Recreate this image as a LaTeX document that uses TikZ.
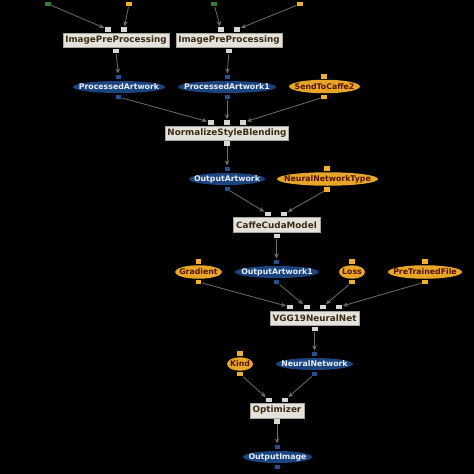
\documentclass[tikz,border=0pt]{standalone}
\usepackage{fontspec}
\setmainfont{DejaVu Sans}
\usetikzlibrary{shapes.geometric,arrows.meta}
\definecolor{boxfill}{HTML}{E4E2DC}
\definecolor{boxedge}{HTML}{A8A49A}
\definecolor{boxtext}{HTML}{3E2C12}
\definecolor{bluefill}{HTML}{1C4580}
\definecolor{bluetext}{HTML}{E6EEF8}
\definecolor{bluepor}{HTML}{24508E}
\definecolor{orafill}{HTML}{E8A628}
\definecolor{oratext}{HTML}{561400}
\definecolor{orapor}{HTML}{F0B02C}
\definecolor{greenpor}{HTML}{3A7A3A}
\definecolor{graypor}{HTML}{D6D6D2}
\definecolor{linkgray}{HTML}{6E6E6E}
\begin{document}
\begin{tikzpicture}[x=1pt,y=-1pt,
  proc/.style={rectangle, draw=boxedge, fill=boxfill, line width=0.6pt, inner sep=0pt,
    text=boxtext, font=\bfseries\fontsize{8.8}{10}\selectfont, minimum height=14pt},
  bluee/.style={ellipse, fill=bluefill, inner sep=0pt, minimum height=12pt},
  orae/.style={ellipse, fill=orafill, inner sep=0pt, minimum height=13.5pt},
  btxt/.style={text=bluetext, font=\bfseries\fontsize{7.8}{9}\selectfont, inner sep=0pt},
  otxt/.style={text=oratext, font=\bfseries\fontsize{7.8}{9}\selectfont, inner sep=0pt},
  pbox/.style={rectangle, fill=graypor, minimum width=6pt, minimum height=4.5pt, inner sep=0pt},
  pblue/.style={rectangle, fill=bluepor, minimum width=5pt, minimum height=4pt, inner sep=0pt},
  pora/.style={rectangle, fill=orapor, minimum width=5.5pt, minimum height=4.5pt, inner sep=0pt},
  pgreen/.style={rectangle, fill=greenpor, minimum width=5.5pt, minimum height=4.5pt, inner sep=0pt},
  link/.style={draw=linkgray, line width=0.8pt, -{Stealth[length=5pt,width=4.5pt]}, shorten >=0.8pt, shorten <=0.5pt}
]
\fill[black] (0,0) rectangle (474,474);
\useasboundingbox (0,0) rectangle (474,474);

% top partial inputs (only their ports visible)
\node[pgreen] (g1o) at (48,4) {};
\node[pora] (o1o) at (129,4) {};
\node[pgreen] (g2o) at (214,4) {};
\node[pora] (o2o) at (300,4) {};

% ImagePreProcessing 1
\node[proc, minimum width=106pt] (ipp1) at (116,40) {ImagePreProcessing};
\node[pbox] (ipp1a) at (108,29.5) {};
\node[pbox] (ipp1b) at (124,29.5) {};
\node[pbox] (ipp1o) at (116,51) {};
% ImagePreProcessing 2
\node[proc, minimum width=106pt] (ipp2) at (229,40) {ImagePreProcessing};
\node[pbox] (ipp2a) at (221,29.5) {};
\node[pbox] (ipp2b) at (237,29.5) {};
\node[pbox] (ipp2o) at (229,51) {};

% ProcessedArtwork
\node[bluee, minimum width=92pt, label={[btxt,name=pat]center:ProcessedArtwork}] (pa) at (119,87) {};
\node[pblue] (pai) at (118.5,76.5) {};
\node[pblue] (pao) at (118.5,97) {};
% ProcessedArtwork1
\node[bluee, minimum width=98pt, label={[btxt,name=pa1t]center:ProcessedArtwork1}] (pa1) at (227,87) {};
\node[pblue] (pa1i) at (227,76.5) {};
\node[pblue] (pa1o) at (227,97) {};
% SendToCaffe2
\node[orae, minimum width=71pt, label={[otxt,name=stct]center:SendToCaffe2}] (stc) at (324.5,86.5) {};
\node[pora] (stci) at (324,76.5) {};
\node[pora] (stco) at (324,97) {};

% NormalizeStyleBlending
\node[proc, minimum width=123pt] (nsb) at (227,133) {NormalizeStyleBlending};
\node[pbox] (nsba) at (211,122.5) {};
\node[pbox] (nsbb) at (227,122.5) {};
\node[pbox] (nsbc) at (243,122.5) {};
\node[pbox] (nsbo) at (227,143.5) {};

% OutputArtwork
\node[bluee, minimum width=76pt, label={[btxt,name=oat]center:OutputArtwork}] (oa) at (227,179) {};
\node[pblue] (oai) at (227,168.5) {};
\node[pblue] (oao) at (227,189) {};
% NeuralNetworkType
\node[orae, minimum width=101pt, label={[otxt,name=nntt]center:NeuralNetworkType}] (nnt) at (327.5,179) {};
\node[pora] (nnti) at (327,168.5) {};
\node[pora] (nnto) at (327,189.5) {};

% CaffeCudaModel
\node[proc, minimum width=87pt, minimum height=15pt] (ccm) at (276.5,225) {CaffeCudaModel};
\node[pbox] (ccma) at (268,214) {};
\node[pbox] (ccmb) at (284,214) {};
\node[pbox] (ccmo) at (276.5,236) {};

% row of inputs for VGG
\node[orae, minimum width=47pt, label={[otxt,name=gradt]center:Gradient}] (grad) at (198.5,272) {};
\node[pora] (gradi) at (198.5,261.5) {};
\node[pora] (grado) at (198.5,282) {};
\node[bluee, minimum width=84pt, label={[btxt,name=oa1t]center:OutputArtwork1}] (oa1) at (277,272) {};
\node[pblue] (oa1i) at (276.5,261.5) {};
\node[pblue] (oa1o) at (276.5,282) {};
\node[orae, minimum width=26pt, label={[otxt,name=losst]center:Loss}] (loss) at (352,272) {};
\node[pora] (lossi) at (352,261.5) {};
\node[pora] (losso) at (352,282) {};
\node[orae, minimum width=74pt, label={[otxt,name=ptft]center:PreTrainedFile}] (ptf) at (425,272) {};
\node[pora] (ptfi) at (425,261.5) {};
\node[pora] (ptfo) at (425,282) {};

% VGG19NeuralNet
\node[proc, minimum width=89pt] (vgg) at (314.5,318) {VGG19NeuralNet};
\node[pbox] (vgga) at (290,307) {};
\node[pbox] (vggb) at (306.5,307) {};
\node[pbox] (vggc) at (322.5,307) {};
\node[pbox] (vggd) at (339,307) {};
\node[pbox] (vggo) at (314.5,329) {};

% Kind, NeuralNetwork
\node[orae, minimum width=26pt, label={[otxt,name=kindt]center:Kind}] (kind) at (240,364) {};
\node[pora] (kindi) at (240,353.5) {};
\node[pora] (kindo) at (240,374) {};
\node[bluee, minimum width=77pt, label={[btxt,name=nnt2]center:NeuralNetwork}] (nn) at (314.5,364) {};
\node[pblue] (nni) at (314.5,353.5) {};
\node[pblue] (nno) at (314.5,374) {};

% Optimizer
\node[proc, minimum width=54pt, minimum height=15pt] (opt) at (277,410.5) {Optimizer};
\node[pbox] (opta) at (269,400) {};
\node[pbox] (optb) at (285,400) {};
\node[pbox] (opto) at (277,421.5) {};

% OutputImage
\node[bluee, minimum width=69pt, label={[btxt,name=oit]center:OutputImage}] (oi) at (277.5,457) {};
\node[pblue] (oii) at (277,446.5) {};
\node[pblue] (oio) at (277,467) {};

% connectors
\draw[link] (g1o) -- (ipp1a);
\draw[link] (o1o) -- (ipp1b);
\draw[link] (g2o) -- (ipp2a);
\draw[link] (o2o) -- (ipp2b);
\draw[link] (ipp1o) -- (pai);
\draw[link] (ipp2o) -- (pa1i);
\draw[link] (pao) -- (nsba);
\draw[link] (pa1o) -- (nsbb);
\draw[link] (stco) -- (nsbc);
\draw[link] (nsbo) -- (oai);
\draw[link] (oao) -- (ccma);
\draw[link] (nnto) -- (ccmb);
\draw[link] (ccmo) -- (oa1i);
\draw[link] (grado) -- (vgga);
\draw[link] (oa1o) -- (vggb);
\draw[link] (losso) -- (vggc);
\draw[link] (ptfo) -- (vggd);
\draw[link] (vggo) -- (nni);
\draw[link] (kindo) -- (opta);
\draw[link] (nno) -- (optb);
\draw[link] (opto) -- (oii);
\end{tikzpicture}
\end{document}
